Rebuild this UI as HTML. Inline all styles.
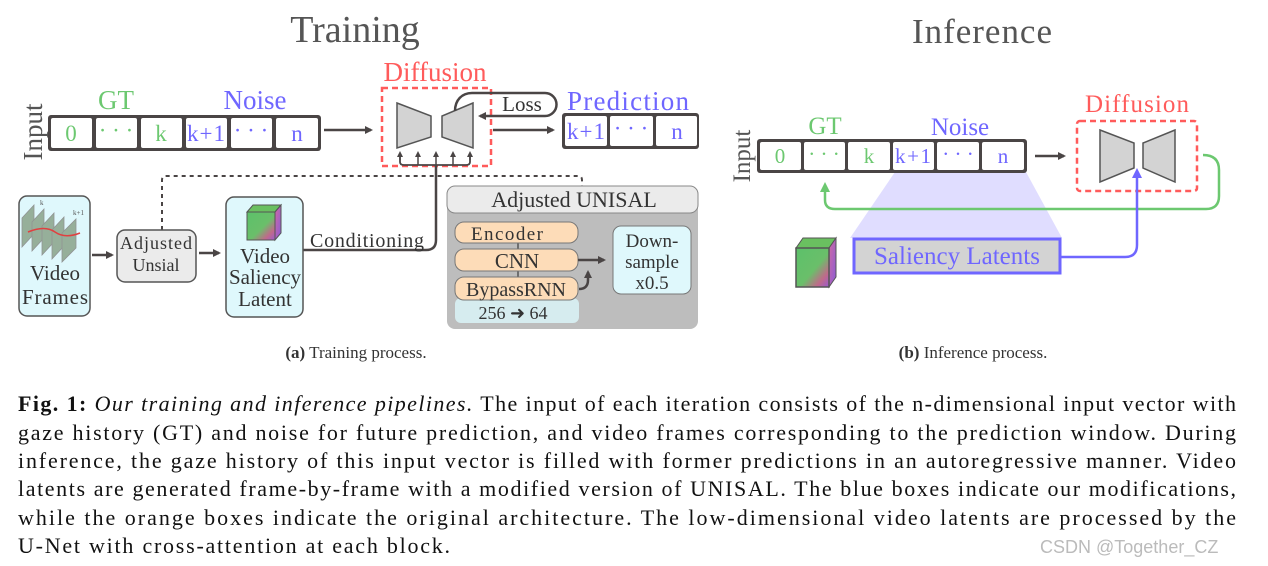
<!DOCTYPE html>
<html><head><meta charset="utf-8"><style>
html,body{margin:0;padding:0;background:#fff}
svg{display:block}
text{font-family:"Liberation Serif",serif}
</style></head><body>
<svg width="1268" height="566" viewBox="0 0 1268 566" xmlns="http://www.w3.org/2000/svg">
<defs>
<marker id="ah" markerWidth="8" markerHeight="8" refX="6" refY="4" orient="auto" markerUnits="userSpaceOnUse"><path d="M0,0 L8,4 L0,8 z" fill="#4a4545"/></marker>
<marker id="ahs" markerWidth="6" markerHeight="6" refX="4" refY="3" orient="auto" markerUnits="userSpaceOnUse"><path d="M0,0 L6,3 L0,6 z" fill="#4a4545"/></marker>
<marker id="ahg" markerWidth="10" markerHeight="10" refX="7" refY="5" orient="auto" markerUnits="userSpaceOnUse"><path d="M0,0 L10,5 L0,10 z" fill="#6cc870"/></marker>
<marker id="ahp" markerWidth="10" markerHeight="10" refX="7" refY="5" orient="auto" markerUnits="userSpaceOnUse"><path d="M0,0 L10,5 L0,10 z" fill="#6f66ff"/></marker>
<linearGradient id="cube" x1="0" y1="0" x2="1" y2="1"><stop offset="0" stop-color="#5cc06a"/><stop offset="0.55" stop-color="#6abf6a"/><stop offset="0.8" stop-color="#c06a8a"/><stop offset="1" stop-color="#9a5ad0"/></linearGradient>
<linearGradient id="cube2" x1="0" y1="0" x2="1" y2="1"><stop offset="0" stop-color="#d06aa0"/><stop offset="1" stop-color="#8a5ad8"/></linearGradient>
</defs>

<!-- TRAINING -->
<text x="355" y="42" font-size="38" fill="#555" text-anchor="middle">Training</text>
<text x="42" y="132" font-size="27" fill="#555" text-anchor="middle" transform="rotate(-90 42 132)">Input</text>
<text x="116" y="109" font-size="27" fill="#6cc870" text-anchor="middle">GT</text>
<text x="255" y="109" font-size="27" fill="#6f66ff" text-anchor="middle">Noise</text>
<rect x="48" y="115" width="273" height="36" rx="3" fill="#4a4545"/>
<g fill="#fff">
<rect x="51" y="118" width="41" height="30" rx="2"/><rect x="96" y="118" width="41" height="30" rx="2"/><rect x="141" y="118" width="41" height="30" rx="2"/>
<rect x="186" y="118" width="41" height="30" rx="2"/><rect x="231" y="118" width="41" height="30" rx="2"/><rect x="276" y="118" width="42" height="30" rx="2"/>
</g>
<g font-size="23" text-anchor="middle">
<text x="71" y="141" fill="#6cc870">0</text><text x="116" y="138" fill="#6cc870">· · ·</text><text x="161" y="141" fill="#6cc870">k</text>
<text x="206" y="141" fill="#6f66ff" textLength="38">k+1</text><text x="251" y="138" fill="#6f66ff">· · ·</text><text x="297" y="141" fill="#6f66ff">n</text>
</g>
<line x1="324" y1="130" x2="371" y2="130" stroke="#4a4545" stroke-width="2.5" marker-end="url(#ah)"/>
<text x="435" y="81" font-size="27" fill="#ff5b5b" text-anchor="middle">Diffusion</text>
<rect x="382" y="88" width="109" height="78" fill="none" stroke="#ff5b5b" stroke-width="2.5" stroke-dasharray="6,4"/>
<polygon points="397,103 431,116 431,137 397,148" fill="#d3d3d3" stroke="#555" stroke-width="1.5"/>
<polygon points="473,103 442,116 442,137 473,148" fill="#d3d3d3" stroke="#555" stroke-width="1.5"/>
<path d="M455,111 C455,100 462,93 472,93 L545,93 A11,11 0 0 1 545,116 L480,116" fill="none" stroke="#4a4545" stroke-width="2.5" marker-end="url(#ah)"/>
<text x="522" y="111" font-size="21" fill="#333" text-anchor="middle">Loss</text>
<line x1="493" y1="130" x2="553" y2="130" stroke="#4a4545" stroke-width="2.5" marker-end="url(#ah)"/>
<text x="628" y="110" font-size="27" fill="#6f66ff" text-anchor="middle" textLength="122">Prediction</text>
<rect x="562" y="113" width="137" height="36" rx="3" fill="#4a4545"/>
<g fill="#fff"><rect x="565" y="116" width="42" height="30" rx="2"/><rect x="610" y="116" width="43" height="30" rx="2"/><rect x="656" y="116" width="41" height="30" rx="2"/></g>
<g font-size="23" text-anchor="middle"><text x="586" y="139" fill="#6f66ff" textLength="38">k+1</text><text x="631" y="136" fill="#6f66ff">· · ·</text><text x="677" y="139" fill="#6f66ff">n</text></g>
<!-- small arrows -->
<path d="M400,162 L400,155 M400,162 Q400,165 404,165 L466,165 Q470,165 470,162 L470,155" fill="none" stroke="#4a4545" stroke-width="1.8"/>
<g stroke="#4a4545" stroke-width="1.5" marker-end="url(#ahs)"><line x1="400" y1="160" x2="400" y2="153"/><line x1="418" y1="165" x2="418" y2="153"/><line x1="436" y1="165" x2="436" y2="153"/><line x1="453" y1="165" x2="453" y2="153"/><line x1="470" y1="160" x2="470" y2="153"/></g>
<path d="M436,165 L436,240 Q436,250 426,250 L303,250" fill="none" stroke="#4a4545" stroke-width="2.5"/>
<text x="367" y="247" font-size="20" fill="#333" text-anchor="middle" textLength="114">Conditioning</text>
<path d="M162,230 L162,180 Q162,176 166,176 L578,176 Q582,176 582,180 L582,186" fill="none" stroke="#4a4545" stroke-width="2" stroke-dasharray="4,4"/>
<!-- video frames -->
<rect x="19" y="196" width="71" height="120" rx="8" fill="#dff8fc" stroke="#555" stroke-width="1.5"/>
<g stroke="#888" stroke-width="0.8" fill="#8fa890" opacity="0.9">
<polygon points="22,218 34,205 34,234 22,247"/><polygon points="32,222 44,209 44,238 32,251"/><polygon points="42,226 54,213 54,242 42,255"/><polygon points="52,230 64,217 64,246 52,259"/><polygon points="62,233 76,219 76,248 62,262"/>
</g>
<path d="M28,232 Q45,225 55,232 T80,233" fill="none" stroke="#e04040" stroke-width="1.5"/>
<text x="40" y="205" font-size="7" fill="#555">k</text><text x="73" y="215" font-size="7" fill="#555">k+1</text>
<text x="55" y="280" font-size="21" fill="#333" text-anchor="middle">Video</text>
<text x="55" y="304" font-size="21" fill="#333" text-anchor="middle" textLength="66">Frames</text>
<line x1="92" y1="255" x2="112" y2="255" stroke="#4a4545" stroke-width="2.5" marker-end="url(#ah)"/>
<rect x="117" y="230" width="79" height="52" rx="8" fill="#ebebeb" stroke="#555" stroke-width="1.5"/>
<text x="156" y="249" font-size="18" fill="#333" text-anchor="middle" textLength="72">Adjusted</text>
<text x="156" y="271" font-size="18" fill="#333" text-anchor="middle">Unsial</text>
<line x1="199" y1="253" x2="219" y2="253" stroke="#4a4545" stroke-width="2.5" marker-end="url(#ah)"/>
<rect x="226" y="197" width="77" height="120" rx="8" fill="#dff8fc" stroke="#555" stroke-width="1.5"/>
<polygon points="247,212 253,205 281,205 275,212" fill="#6ac060" stroke="#555"/>
<polygon points="275,212 281,205 281,233 275,240" fill="url(#cube2)" stroke="#555"/>
<rect x="247" y="212" width="28" height="28" fill="url(#cube)" stroke="#555"/>
<text x="265" y="263" font-size="21" fill="#333" text-anchor="middle">Video</text>
<text x="265" y="284" font-size="21" fill="#333" text-anchor="middle" textLength="72">Saliency</text>
<text x="265" y="306" font-size="21" fill="#333" text-anchor="middle">Latent</text>
<!-- UNISAL -->
<rect x="447" y="186" width="251" height="143" rx="8" fill="#bdbdbd"/>
<rect x="447" y="186" width="251" height="27" rx="8" fill="#ebebeb" stroke="#888" stroke-width="1"/>
<text x="574" y="207" font-size="22" fill="#333" text-anchor="middle">Adjusted UNISAL</text>
<rect x="455" y="298" width="124" height="25" rx="6" fill="#d6ecef"/>
<text x="513" y="319" font-size="18" fill="#333" text-anchor="middle">256 ➜ 64</text>
<line x1="518" y1="240" x2="518" y2="280" stroke="#555" stroke-width="1.5"/>
<rect x="455" y="222" width="123" height="21" rx="9" fill="#fddcb8" stroke="#777"/>
<text x="507" y="240" font-size="19" fill="#333" text-anchor="middle" textLength="72">Encoder</text>
<rect x="455" y="249" width="123" height="22" rx="9" fill="#fddcb8" stroke="#777"/>
<text x="517" y="268" font-size="21" fill="#333" text-anchor="middle">CNN</text>
<rect x="455" y="277" width="123" height="23" rx="9" fill="#fddcb8" stroke="#777"/>
<text x="516" y="296" font-size="20" fill="#333" text-anchor="middle">BypassRNN</text>
<line x1="578" y1="260" x2="604" y2="260" stroke="#4a4545" stroke-width="2.5" marker-end="url(#ah)"/>
<path d="M579,289 Q588,289 588,280 L588,272" fill="none" stroke="#4a4545" stroke-width="2.5" marker-end="url(#ah)"/>
<rect x="613" y="226" width="78" height="68" rx="8" fill="#dff8fc" stroke="#777"/>
<text x="652" y="247" font-size="19" fill="#333" text-anchor="middle">Down-</text>
<text x="652" y="268" font-size="19" fill="#333" text-anchor="middle">sample</text>
<text x="652" y="289" font-size="19" fill="#333" text-anchor="middle">x0.5</text>
<text x="356" y="358" font-size="17" fill="#333" text-anchor="middle"><tspan font-weight="bold">(a)</tspan> Training process.</text>

<!-- INFERENCE -->
<text x="982" y="43" font-size="35" fill="#555" text-anchor="middle" textLength="140">Inference</text>
<polygon points="895,172 1026,172 1062,238 850,238" fill="#e0ddff"/>
<text x="750" y="156" font-size="25" fill="#555" text-anchor="middle" transform="rotate(-90 750 156)">Input</text>
<text x="825" y="134" font-size="25" fill="#6cc870" text-anchor="middle">GT</text>
<text x="960" y="135" font-size="25" fill="#6f66ff" text-anchor="middle">Noise</text>
<rect x="757" y="139" width="270" height="34" rx="3" fill="#4a4545"/>
<g fill="#fff"><rect x="760" y="142" width="41" height="28" rx="2"/><rect x="804" y="142" width="41" height="28" rx="2"/><rect x="848" y="142" width="42" height="28" rx="2"/><rect x="893" y="142" width="41" height="28" rx="2"/><rect x="937" y="142" width="42" height="28" rx="2"/><rect x="982" y="142" width="42" height="28" rx="2"/></g>
<g font-size="21" text-anchor="middle"><text x="780" y="163" fill="#6cc870">0</text><text x="824" y="161" fill="#6cc870">· · ·</text><text x="869" y="163" fill="#6cc870">k</text><text x="913" y="163" fill="#6f66ff" textLength="36">k+1</text><text x="958" y="161" fill="#6f66ff">· · ·</text><text x="1003" y="163" fill="#6f66ff">n</text></g>
<line x1="1035" y1="156" x2="1064" y2="156" stroke="#4a4545" stroke-width="2.5" marker-end="url(#ah)"/>
<text x="1137" y="112" font-size="25" fill="#ff5b5b" text-anchor="middle" textLength="104">Diffusion</text>
<rect x="1077" y="121" width="120" height="70" rx="3" fill="none" stroke="#ff5b5b" stroke-width="2.5" stroke-dasharray="6,4"/>
<polygon points="1100,130 1134,143 1134,168 1100,182" fill="#d3d3d3" stroke="#555" stroke-width="1.5"/>
<polygon points="1175,130 1143,143 1143,168 1175,182" fill="#d3d3d3" stroke="#555" stroke-width="1.5"/>
<path d="M1203,155 Q1219,155 1219,170 L1219,196 Q1219,209 1206,209 L835,209 Q825,209 825,200 L825,185" fill="none" stroke="#6cc870" stroke-width="2.5" marker-end="url(#ahg)"/>
<path d="M1060,257 L1125,257 Q1137,257 1137,245 L1137,171" fill="none" stroke="#6f66ff" stroke-width="2.5" marker-end="url(#ahp)"/>
<rect x="854" y="239" width="206" height="34" fill="#d3d3d3" stroke="#6f66ff" stroke-width="3"/>
<text x="957" y="264" font-size="25" fill="#6f66ff" text-anchor="middle">Saliency Latents</text>
<polygon points="796,248 803,238 836,238 829,248" fill="#6ac060" stroke="#555"/>
<polygon points="829,248 836,238 836,277 829,287" fill="url(#cube2)" stroke="#555"/>
<rect x="796" y="248" width="33" height="39" fill="url(#cube)" stroke="#555" stroke-width="1.5"/>
<text x="973" y="358" font-size="17" fill="#333" text-anchor="middle"><tspan font-weight="bold">(b)</tspan> Inference process.</text>

<!-- CAPTION -->
<g font-size="22" fill="#111">
<text x="18" y="411" textLength="1218" lengthAdjust="spacing"><tspan font-weight="bold">Fig. 1:</tspan> <tspan font-style="italic">Our training and inference pipelines.</tspan> The input of each iteration consists of the n-dimensional input vector with</text>
<text x="18" y="440" textLength="1218" lengthAdjust="spacing">gaze history (GT) and noise for future prediction, and video frames corresponding to the prediction window. During</text>
<text x="18" y="468" textLength="1218" lengthAdjust="spacing">inference, the gaze history of this input vector is filled with former predictions in an autoregressive manner. Video</text>
<text x="18" y="496" textLength="1218" lengthAdjust="spacing">latents are generated frame-by-frame with a modified version of UNISAL. The blue boxes indicate our modifications,</text>
<text x="18" y="525" textLength="1218" lengthAdjust="spacing">while the orange boxes indicate the original architecture. The low-dimensional video latents are processed by the</text>
<text x="18" y="553" textLength="432" lengthAdjust="spacing">U-Net with cross-attention at each block.</text>
</g>
<text x="1040" y="553" font-size="18" fill="#bbb" style="font-family:'Liberation Sans',sans-serif">CSDN @Together_CZ</text>
</svg>
</body></html>
